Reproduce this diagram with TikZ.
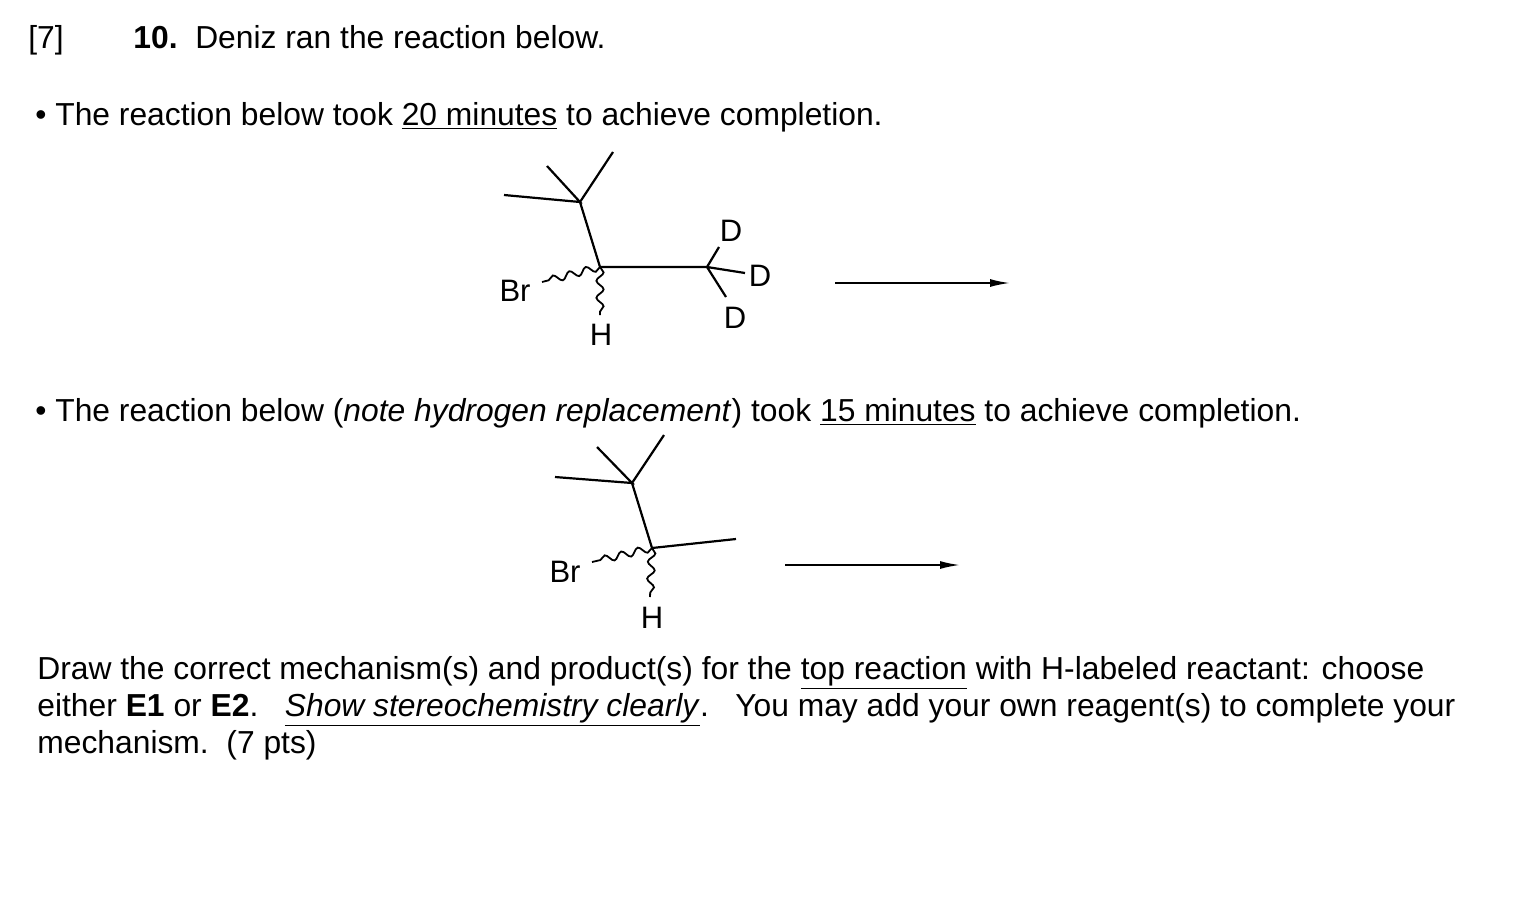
\documentclass[tikz,border=0pt]{standalone}
\usepackage{fontspec}
\setmainfont{Liberation Sans}
\usetikzlibrary{decorations.pathmorphing,arrows.meta}
\begin{document}
\begin{tikzpicture}[x=0.5pt,y=-0.5pt,
  bond/.style={line width=1.1pt},
  wavy/.style={line width=0.9pt,decorate,decoration={snake,amplitude=1.8pt,segment length=8.5pt}},
  txt/.style={inner sep=0,anchor=base west,font=\fontsize{15.9}{18.5}\selectfont},
  atom/.style={inner sep=0,font=\fontsize{15.5}{17}\selectfont},
  rxn/.style={line width=0.9pt,-{Latex[length=10pt,width=4pt]}}]
\useasboundingbox (0,0) rectangle (1534,916);
\node[txt] (t0) at (28,48) {[7]};
\node[txt] (t1) at (133,48) {\textbf{10.}\ \ Deniz ran the reaction below.};
\node[txt] (t2) at (35,125) {• The reaction below took \underline{20 minutes} to achieve completion.};
\node[txt] (t3) at (35,421) {• The reaction below (\textit{note hydrogen replacement}) took \underline{15 minutes} to achieve completion.};
\node[txt] (t4) at (37,679) {Draw the correct mechanism(s) and product(s) for the \underline{top reaction} with H-labeled reactant: choose};
\node[txt] (t5) at (37,716) {either \textbf{E1} or \textbf{E2}.\ \ \ \underline{\textit{Show stereochemistry clearly}}.\ \ \ You may add your own reagent(s) to complete your};
\node[txt] (t6) at (37,753) {mechanism.\ \ (7 pts)};
% top molecule
\coordinate (q1) at (580,202);
\coordinate (m1) at (504,195);
\coordinate (m2) at (547,166);
\coordinate (m3) at (613,152);
\coordinate (c1) at (600,267);
\coordinate (cd) at (707,267);
\coordinate (w1) at (542,282);
\coordinate (w2) at (600,315);
\node[atom] (br1) at (515,291) {Br};
\node[atom] (h1) at (601,335) {H};
\node[atom] (d1) at (731,231) {D};
\node[atom] (d2) at (760,276) {D};
\node[atom] (d3) at (735,318) {D};
\draw[bond] (m1)--(q1)--(m2) (q1)--(m3) (q1)--(c1)--(cd);
\draw[bond] (cd)--(719,247) (cd)--(745,273) (cd)--(726,297);
\draw[wavy] (c1)--(w1);
\draw[wavy] (c1)--(w2);
\coordinate (a1) at (835,283);
\coordinate (a2) at (1010,283);
\draw[rxn] (a1)--(a2);
% bottom molecule
\coordinate (q2) at (632,483);
\coordinate (n1) at (555,477);
\coordinate (n2) at (597,447);
\coordinate (n3) at (664,435);
\coordinate (c2) at (652,548);
\coordinate (me) at (736,539);
\coordinate (v1) at (592,562);
\coordinate (v2) at (650,597);
\node[atom] (br2) at (565,572) {Br};
\node[atom] (h2) at (652,618) {H};
\draw[bond] (n1)--(q2)--(n2) (q2)--(n3) (q2)--(c2)--(me);
\draw[wavy] (c2)--(v1);
\draw[wavy] (c2)--(v2);
\coordinate (b1) at (785,565);
\coordinate (b2) at (960,565);
\draw[rxn] (b1)--(b2);
\end{tikzpicture}
\end{document}
